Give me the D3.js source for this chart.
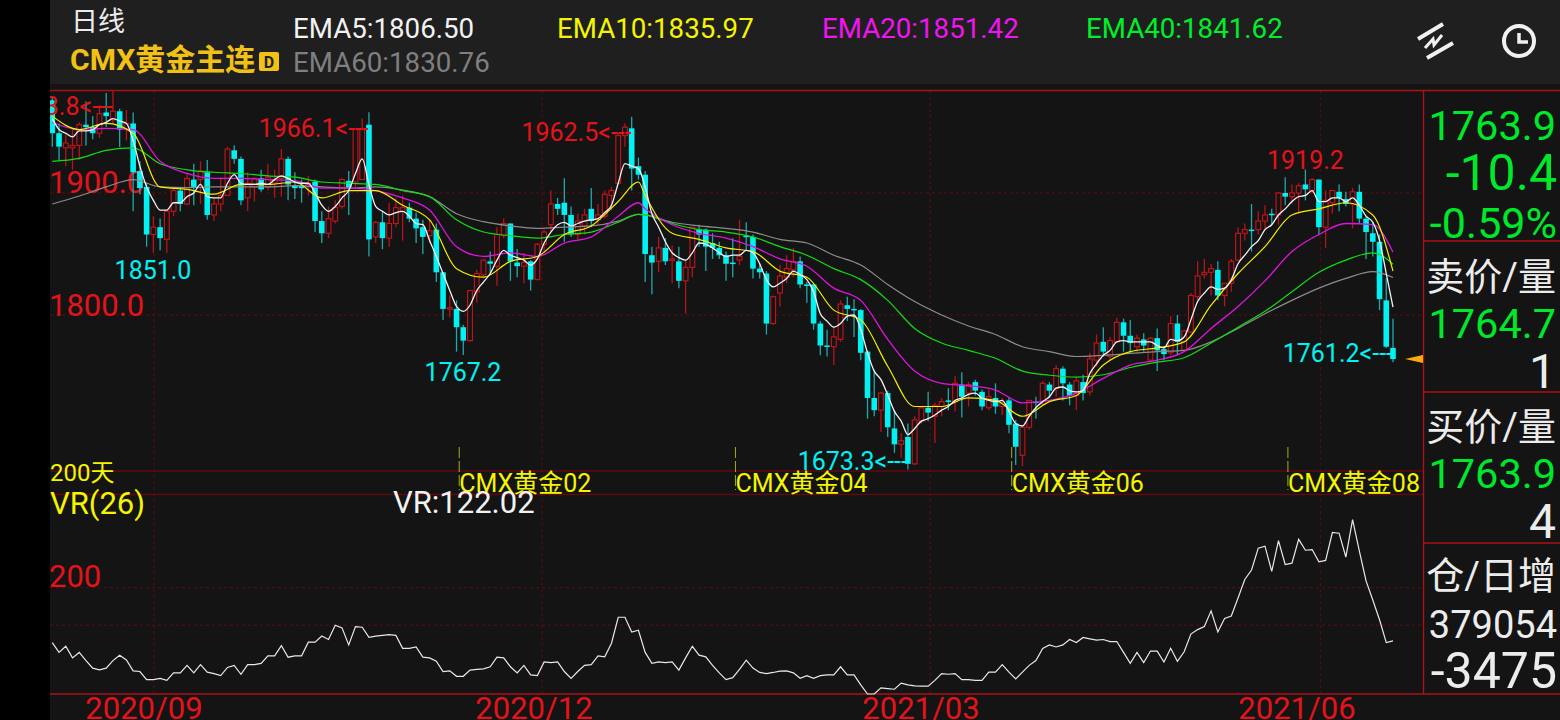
<!DOCTYPE html>
<html>
<head>
<meta charset="utf-8">
<script src="https://cdn.jsdelivr.net/npm/d3@7"></script>
<style>
  html, body { margin: 0; padding: 0; background: #000; overflow: hidden; }
  text { font-family: Roboto, "Noto Sans CJK SC", sans-serif; }
</style>
</head>
<body>
<script>
// daily candles, 200 days
var highs = [1979,1957,1949,1952,1958,1975,1963,1972,1982,1983.8,1969,1968,1966,1926,1908,1881,1879,1886,1905,1905,
  1916,1924,1926,1927,1896,1913,1938,1939,1930,1917,1913,1919,1924,1919,1936,1930,1917,1911,1914,1911,
  1885,1889,1894,1912,1918,1952,1961,1966.1,1877,1885,1892,1896,1898,1892,1884,1878,1878,1875,1835,1816,
  1812,1792,1820,1837,1846,1852,1872,1879,1875,1854,1851,1845,1859,1870,1902,1896,1912,1889,1883,1887,
  1904,1891,1902,1905,1949,1957,1962.5,1929,1918,1856,1864,1863,1857,1856,1845,1872,1874,1871,1867,1860,
  1852,1863,1878,1876,1866,1842,1836,1816,1841,1849,1855,1848,1827,1826,1795,1788,1790,1812,1815,1813,
  1805,1771,1755,1737,1738,1722,1703,1711,1717,1725,1737,1728,1732,1740,1750,1753,1745,1747,1739,1739,
  1744,1732,1732,1714,1709,1730,1733,1746,1745,1759,1758,1745,1749,1751,1769,1784,1790,1782,1798,1797,
  1796,1784,1785,1782,1789,1774,1799,1800,1788,1818,1844,1846,1842,1844,1826,1846,1872,1875,1891,1885,
  1890,1887,1901,1913,1907,1908,1919.2,1912,1911,1902,1902,1907,1901,1904,1907,1881,1876,1866,1830,1797];
var lows = [1938,1927,1922,1919,1927,1939,1944,1945,1954,1957,1938,1943,1885,1899,1856,1851,1853,1851.0,1881,1885,
  1890,1890,1891,1878,1877,1885,1898,1924,1890,1885,1893,1901,1902,1896,1897,1894,1895,1892,1898,1868,
  1859,1863,1875,1887,1882,1905,1911,1848,1859,1854,1856,1872,1861,1876,1859,1850,1859,1827,1796,1798,
  1770,1767.2,1778,1810,1830,1833,1824,1863,1828,1831,1826,1820,1829,1851,1868,1882,1860,1864,1861,1866,
  1872,1874,1879,1886,1907,1938,1902,1911,1827,1817,1835,1841,1826,1822,1801,1831,1856,1836,1846,1846,
  1828,1831,1841,1853,1830,1830,1784,1792,1807,1826,1831,1822,1810,1788,1767,1766,1759,1778,1795,1782,
  1763,1715,1717,1704,1700,1687,1683,1673.3,1677,1711,1713,1695,1717,1722,1721,1716,1725,1734,1722,1722,
  1719,1718,1703,1677,1676,1706,1715,1726,1732,1733,1730,1726,1722,1730,1734,1758,1766,1763,1777,1770,
  1769,1769,1770,1762,1754,1763,1767,1767,1770,1785,1812,1830,1816,1812,1807,1819,1844,1861,1852,1866,
  1871,1874,1874,1890,1891,1883,1894,1900,1866,1855,1883,1885,1889,1871,1875,1846,1848,1804,1773,1761.2];
var opens = [1976,1949,1937,1937,1939,1956,1954,1949,1966,1960,1967,1952,1957,1918,1905,1866,1872,1862,1885,1902,
  1891,1911,1911,1917,1882,1891,1898,1935,1928,1896,1905,1912,1905,1908,1912,1928,1906,1906,1905,1909,
  1877,1867,1877,1889,1910,1909,1911,1956,1864,1876,1863,1875,1885,1888,1879,1872,1865,1870,1835,1805,
  1805,1790,1779,1819,1833,1844,1840,1865,1875,1843,1840,1844,1829,1858,1874,1891,1892,1882,1866,1873,
  1887,1878,1881,1898,1908,1947,1953,1922,1915,1849,1844,1855,1845,1844,1828,1839,1870,1870,1859,1855,
  1849,1843,1845,1865,1864,1838,1834,1793,1818,1831,1837,1844,1825,1825,1793,1775,1774,1780,1808,1805,
  1804,1770,1732,1722,1736,1707,1694,1700,1678,1713,1724,1717,1725,1730,1729,1743,1736,1745,1737,1724,
  1732,1725,1730,1711,1685,1708,1729,1729,1743,1740,1756,1743,1734,1745,1737,1763,1778,1766,1778,1794,
  1783,1774,1780,1763,1781,1772,1769,1793,1771,1786,1815,1833,1835,1837,1816,1826,1845,1867,1870,1870,
  1877,1883,1882,1900,1897,1900,1907,1902,1911,1872,1892,1901,1895,1891,1901,1879,1867,1860,1812,1773];
var closes = [1949,1938,1941,1939,1956,1954,1949,1965,1963,1967,1952,1957,1917,1904,1866,1872,1863,1885,1902,1891,
  1912,1905,1918,1882,1891,1898,1936,1928,1894,1908,1912,1903,1913,1911,1928,1907,1904,1904,1908,1877,
  1867,1879,1888,1911,1904,1952,1952,1862,1876,1863,1875,1888,1888,1879,1871,1864,1869,1835,1805,1806,
  1790,1779,1820,1834,1845,1842,1866,1875,1844,1840,1843,1829,1858,1868,1891,1887,1882,1866,1877,1882,
  1877,1882,1899,1902,1947,1954,1920,1915,1850,1843,1855,1844,1846,1828,1839,1872,1866,1856,1855,1849,
  1842,1842,1848,1864,1838,1835,1793,1815,1832,1838,1844,1825,1825,1793,1775,1774,1782,1809,1805,1804,
  1769,1732,1722,1736,1708,1694,1697,1678,1714,1724,1720,1726,1729,1729,1744,1733,1743,1738,1725,1733,
  1725,1728,1710,1692,1708,1730,1728,1744,1738,1756,1744,1734,1746,1736,1764,1777,1770,1779,1794,1783,
  1777,1781,1775,1781,1771,1768,1793,1778,1787,1816,1832,1835,1838,1816,1826,1844,1867,1870,1870,1877,
  1882,1883,1900,1897,1900,1906,1903,1911,1872,1894,1902,1896,1891,1901,1879,1868,1860,1813,1774,1763.9];

var ema5 = [1961,1952,1949,1946,1951,1951,1952,1956,1958,1961,1959,1957,1943,1922,1905,1894,1886,1886,1892,1892,
  1897,1900,1907,1897,1896,1896,1908,1915,1908,1907,1907,1908,1907,1911,1914,1912,1909,1908,1908,1900,
  1890,1885,1889,1896,1902,1916,1928,1907,1889,1885,1882,1884,1885,1881,1875,1874,1861,1848,1834,1820,
  1807,1803,1808,1820,1827,1834,1845,1853,1849,1847,1845,1841,1846,1859,1868,1874,1876,1873,1875,1877,
  1878,1879,1884,1890,1908,1924,1922,1920,1905,1883,1872,1860,1851,1847,1845,1851,1859,1858,1855,1851,
  1848,1849,1849,1853,1851,1842,1829,1823,1826,1830,1836,1833,1829,1819,1801,1795,1790,1793,1799,1800,
  1788,1769,1754,1747,1734.5,1721,1713,1702,1707,1713,1715,1718,1722,1725,1730,1732,1735,1736,1732,1730,
  1729,1730,1721,1711,1709,1717,1724,1729,1733,1740,1741,1738,1737,1738,1752,1760,1767,1771,1778,1779,
  1778,1778,1778,1778,1775,1773,1780,1779,1782,1796,1811,1818,1823,1821,1822,1829,1842,1849,1856,1861,
  1870,1874,1882,1887,1893,1897,1898,1902,1893,1893,1896,1896,1893,1896,1890,1881,1876,1861,1834,1806.5];

// slower lines are read every 4th day, plus the january top
var emaDays = [0,4,8,12,16,20,24,28,32,36,40,44,48,52,56,60,64,68,72,76,80,84,87,88,92,96,100,
  104,108,112,116,120,124,128,132,136,140,144,148,152,156,160,164,168,172,176,180,184,188,192,196,199];
var ema10 = [1963,1952,1957,1949,1905,1903,1899,1907,1907,1909,1896,1902,1902,1890,1878,1838,1831,1844,1848,1866,
  1873,1893,1909,1898,1867,1862,1855,1852,1836,1831,1804,1796,1758,1725,1725,1732,1730,1717,1729,1734,1759,
  1770,1773,1778,1808,1834,1856,1882,1887,1892,1882,1835.97];
var ema20 = [1958,1952,1953,1952,1926,1916,1912,1912,1911,1910,1904,1904,1902,1896,1886,1856,1848,1851,1848,1859,
  1864,1881,1892,1887,1874,1867,1863,1856,1846,1840,1822,1812,1780,1754,1744,1742,1738.5,1728,1730,1736,1748,
  1759,1763,1770,1789,1807,1828,1852,1866,1875,1874,1851.42];
var ema40 = [1926,1928.4,1935,1937,1924,1919,1917,1916,1914,1913,1909,1908,1907,1902,1897,1878,1868,1865,1863,1866,
  1868,1876,1882.5,1882,1875,1870,1868,1864,1856,1849,1838,1829,1812,1789,1777,1771,1764.5,1754,1750.6,1749,1751,
  1757,1761.4,1765,1777,1790,1803,1819,1835,1845,1851,1841.62];
var ema60 = [1891,1897.5,1905,1911,1905,1904.4,1905,1905,1905,1906,1905,1904,1905,1902.4,1897,1883,1876.5,1873,1871,1872,
  1873,1877,1882.5,1882,1876,1873,1871,1868,1862,1859,1849,1841,1825,1811,1800,1791,1784,1774,1770,1766,1767,
  1768.5,1770,1771,1778,1789,1801,1812,1822,1830,1835.5,1830.76];

var vr = [119.5,105,114,97,105,93,82,79.5,82,93,101,94,78,77,65,65,67,64,75,75,
  86,75,87,76,74,71,83,86,73,87,87,89,100,100,115,98,100,100,120,120,
  129,124,145,141,116,143,142,127,129,130,131,130,111,111,113,98,97,92,77,78,
  70,70,79,80,81,84,98,97,84,75,86,72,71,91,90,91,77,67,77,86,
  87,100,98.5,118.5,156.6,156.6,135,137.5,105,89,91,90,91,79,97,114,101,98.5,86,75,
  65,68,80,93.6,82,75.6,74,75.6,77.5,78,75,67,71,67,71,72,72,84,72,72,
  57.5,44,44,53,52,51,60,57.5,56,55.5,55.5,64,74,73,74,65,65,64,64,76,
  76,87,76,66,76,86,93,111,116,113,116,124,119.5,127,125,123,124,121,121,105,
  89,105,90,107,107,91,111,92,106,132,138.5,143,166,135,155,158.5,185,212,226,258,
  261,224,269,234,236,271,255,256,238,240,281,280,245,300,254,210,182,153,119.5,122.02];

var priceTicks = [1900, 1800];
var priceTickLabels = ['1900.0', '1800.0'];
var vrTicks = [200, 145];
var dateDays = [15.1, 72.7, 130.3, 188.2];
var dateLabels = ['2020/09', '2020/12', '2021/03', '2021/06'];
var contractDays = [60.4, 101.4, 142.4, 183.4];
var contractLabels = ['CMX黄金02', 'CMX黄金04', 'CMX黄金06', 'CMX黄金08'];

var width = 1560, height = 720;
var RED = '#e4131a', CYAN = '#00f2f2', GREEN = '#00e82a', YELLOW = '#f5f500';

var svg = d3.select('body').append('svg')
  .attr('width', width)
  .attr('height', height)
  .style('display', 'block')
  .style('background-color', '#141414');

var x = d3.scaleLinear().domain([0, 199]).range([52.3, 1393]);
var y = d3.scaleLinear().domain([1900, 1800]).range([193, 315]);
var yVr = d3.scaleLinear().domain([200, 44]).range([587.7, 694]);

var defs = svg.append('defs');
defs.append('clipPath').attr('id', 'main')
  .append('rect').attr('x', 50).attr('y', 91).attr('width', 1373).attr('height', 403);

// header band
svg.append('rect').attr('width', width).attr('height', 84).attr('fill', '#1f1f1f');

// grid
var grid = svg.append('g').attr('stroke', '#5e0d10').attr('stroke-dasharray', '3,3');
grid.selectAll('.hp').data(priceTicks).enter().append('line')
  .attr('x1', 50).attr('x2', 1423)
  .attr('y1', function(d) { return y(d); })
  .attr('y2', function(d) { return y(d); });
grid.selectAll('.hv').data(vrTicks).enter().append('line')
  .attr('x1', 50).attr('x2', 1423)
  .attr('y1', function(d) { return yVr(d); })
  .attr('y2', function(d) { return yVr(d); });
grid.selectAll('.vm').data(dateDays).enter().append('line')
  .attr('x1', function(d) { return x(d); })
  .attr('x2', function(d) { return x(d); })
  .attr('y1', 91).attr('y2', 694);

// frame
var frame = svg.append('g').attr('stroke', '#5e0a0e').attr('stroke-width', 1.5);
[471, 494.5].forEach(function(p) {
  frame.append('line').attr('x1', 50).attr('x2', 1423).attr('y1', p).attr('y2', p);
});
var panelFrame = svg.append('g').attr('stroke', '#a81218').attr('stroke-width', 1.4);
[90.5, 694].forEach(function(p) {
  panelFrame.append('line').attr('x1', 50).attr('x2', 1560).attr('y1', p).attr('y2', p);
});
panelFrame.append('line').attr('x1', 1423.5).attr('x2', 1423.5).attr('y1', 90).attr('y2', 694);
[241, 392, 543].forEach(function(p) {
  panelFrame.append('line').attr('x1', 1423).attr('x2', 1560).attr('y1', p).attr('y2', p);
});

// axis labels sit under the candles
var addText = function(parent, str, px, py, size, fill, anchor) {
  return parent.append('text')
    .attr('x', px).attr('y', py)
    .attr('font-size', size)
    .attr('fill', fill)
    .attr('text-anchor', anchor || 'start')
    .text(str);
};

priceTicks.forEach(function(p, i) {
  addText(svg, priceTickLabels[i], 49, y(p) + (i === 0 ? 0 : 1), 31, RED);
});
addText(svg, '200', 49, yVr(200) - 1, 31, RED);

// contract roll markers
var contracts = svg.append('g');
contractDays.forEach(function(d, i) {
  contracts.append('line')
    .attr('x1', x(d)).attr('x2', x(d))
    .attr('y1', 447).attr('y2', 490)
    .attr('stroke', '#a8a820').attr('stroke-width', 1)
    .attr('stroke-dasharray', '11,3');
  addText(contracts, contractLabels[i], x(d), 492, 25, YELLOW);
});

// candles
var candles = svg.append('g').attr('clip-path', 'url(#main)');
var days = d3.range(highs.length);
var isUp = function(i) { return closes[i] > opens[i]; };

candles.selectAll('.wick').data(days).enter().append('line')
  .attr('x1', function(i) { return x(i); })
  .attr('x2', function(i) { return x(i); })
  .attr('y1', function(i) { return y(highs[i]); })
  .attr('y2', function(i) { return y(lows[i]); })
  .attr('stroke', function(i) { return isUp(i) ? '#b5141a' : '#1fa9ab'; })
  .attr('stroke-width', 1.3);

candles.selectAll('.body').data(days).enter().append('rect')
  .attr('x', function(i) { return x(i) - (isUp(i) ? 2.4 : 2.8); })
  .attr('width', function(i) { return isUp(i) ? 4.8 : 5.6; })
  .attr('y', function(i) { return y(Math.max(opens[i], closes[i])); })
  .attr('height', function(i) { return Math.max(1.5, Math.abs(y(opens[i]) - y(closes[i]))); })
  .attr('fill', function(i) { return isUp(i) ? '#141414' : CYAN; })
  .attr('stroke', function(i) { return isUp(i) ? '#c8141a' : 'none'; })
  .attr('stroke-width', 1.1);

// moving averages
var emaLine = d3.line()
  .x(function(d) { return x(d[0]); })
  .y(function(d) { return y(d[1]); })
  .curve(d3.curveMonotoneX);

var drawEma = function(daysList, values, color, w) {
  candles.append('path')
    .datum(d3.zip(daysList, values))
    .attr('d', emaLine)
    .attr('fill', 'none')
    .attr('stroke', color)
    .attr('stroke-width', w);
};
drawEma(emaDays, ema60, '#8c8c8c', 1.2);
drawEma(emaDays, ema40, '#12dc12', 1.2);
drawEma(emaDays, ema20, '#e014e0', 1.3);
drawEma(emaDays, ema10, '#f0f000', 1.2);
drawEma(days, ema5, '#f2f2f2', 1.3);

// high and low tags
addText(candles, '1983.8<---', x(9), y(1983.8) + 24, 25, RED, 'end');
addText(svg, '1966.1<---', x(47), y(1966.1) + 25, 25, RED, 'end');
addText(svg, '1962.5<---', x(86), y(1962.5) + 24, 25, RED, 'end');
addText(svg, '1919.2', x(186), y(1919.2) - 1, 25, RED, 'middle');
addText(svg, '1851.0', 153, y(1851) + 26, 25, CYAN, 'middle');
addText(svg, '1767.2', 463, y(1767.2) + 26, 25, CYAN, 'middle');
addText(svg, '1673.3<---', x(127), y(1673.3), 25, CYAN, 'end');
addText(svg, '1761.2<---', x(199), y(1761.2), 25, CYAN, 'end');

// current price arrow
svg.append('path')
  .attr('d', d3.line()([[1405, y(1763.9)], [1423, y(1763.9) - 4], [1423, y(1763.9) + 4]]))
  .attr('fill', '#ffa90a');

// VR pane
svg.append('path')
  .datum(vr)
  .attr('d', d3.line()
    .x(function(d, i) { return x(i); })
    .y(function(d) { return yVr(d); }))
  .attr('fill', 'none')
  .attr('stroke', '#e8e8e8')
  .attr('stroke-width', 1.2);

addText(svg, '200天', 50, 481, 24, YELLOW);
addText(svg, 'VR(26)', 50, 514, 31, YELLOW);
addText(svg, 'VR:122.02', 393, 513, 31, '#f2f2f2');

dateLabels.forEach(function(s, i) {
  addText(svg, s, [144, 534, 921, 1297][i], 719, 31, RED, 'middle');
});

// header
addText(svg, '日线', 71, 31, 27, '#ececec');
addText(svg, 'CMX黄金主连', 70, 70, 30, '#f1c115').attr('font-weight', 'bold');
svg.append('rect').attr('x', 259).attr('y', 52).attr('width', 20).attr('height', 19).attr('rx', 2).attr('fill', '#f1c115');
addText(svg, 'D', 269, 68, 16, '#1f1f1f', 'middle').attr('font-weight', 'bold');
addText(svg, 'EMA5:1806.50', 293, 38, 27.7, '#f2f2f2');
addText(svg, 'EMA10:1835.97', 557, 38, 27.7, '#f5f500');
addText(svg, 'EMA20:1851.42', 822, 38, 27.7, '#f014f0');
addText(svg, 'EMA40:1841.62', 1086, 38, 27.7, '#00ef2c');
addText(svg, 'EMA60:1830.76', 293, 72, 27.7, '#7f7f7f');

// toolbar icons
var icons = svg.append('g').attr('fill', 'none').attr('stroke', '#f0f0f0').attr('stroke-width', 4);
icons.append('path').attr('d', 'M1418,39L1443,24M1427,58L1453,43');
icons.append('path').attr('d', 'M1425,48L1433,39L1434,45L1442,35').attr('stroke-width', 3);
icons.append('circle').attr('cx', 1519).attr('cy', 41).attr('r', 15);
icons.append('path').attr('d', 'M1519,33V42H1528').attr('stroke-width', 3.5);

// quote panel
var panel = svg.append('g');
addText(panel, '1763.9', 1556, 140, 41.5, GREEN, 'end');
addText(panel, '-10.4', 1557, 190, 50, GREEN, 'end');
addText(panel, '-0.59%', 1557, 238, 43, GREEN, 'end');
addText(panel, '卖价/量', 1556, 290, 38, '#ececec', 'end');
addText(panel, '1764.7', 1556, 338, 41.5, GREEN, 'end');
addText(panel, '1', 1556, 388, 48, '#ececec', 'end');
addText(panel, '买价/量', 1556, 440, 38, '#ececec', 'end');
addText(panel, '1763.9', 1556, 488, 41.5, GREEN, 'end');
addText(panel, '4', 1556, 538, 48, '#ececec', 'end');
addText(panel, '仓/日增', 1556, 589, 38, '#ececec', 'end');
addText(panel, '379054', 1557, 638, 38, '#ececec', 'end');
addText(panel, '-3475', 1557, 688, 50, '#ececec', 'end');

// black bezel down the left side
svg.append('rect').attr('width', 50).attr('height', height).attr('fill', '#000');
</script>
</body>
</html>
